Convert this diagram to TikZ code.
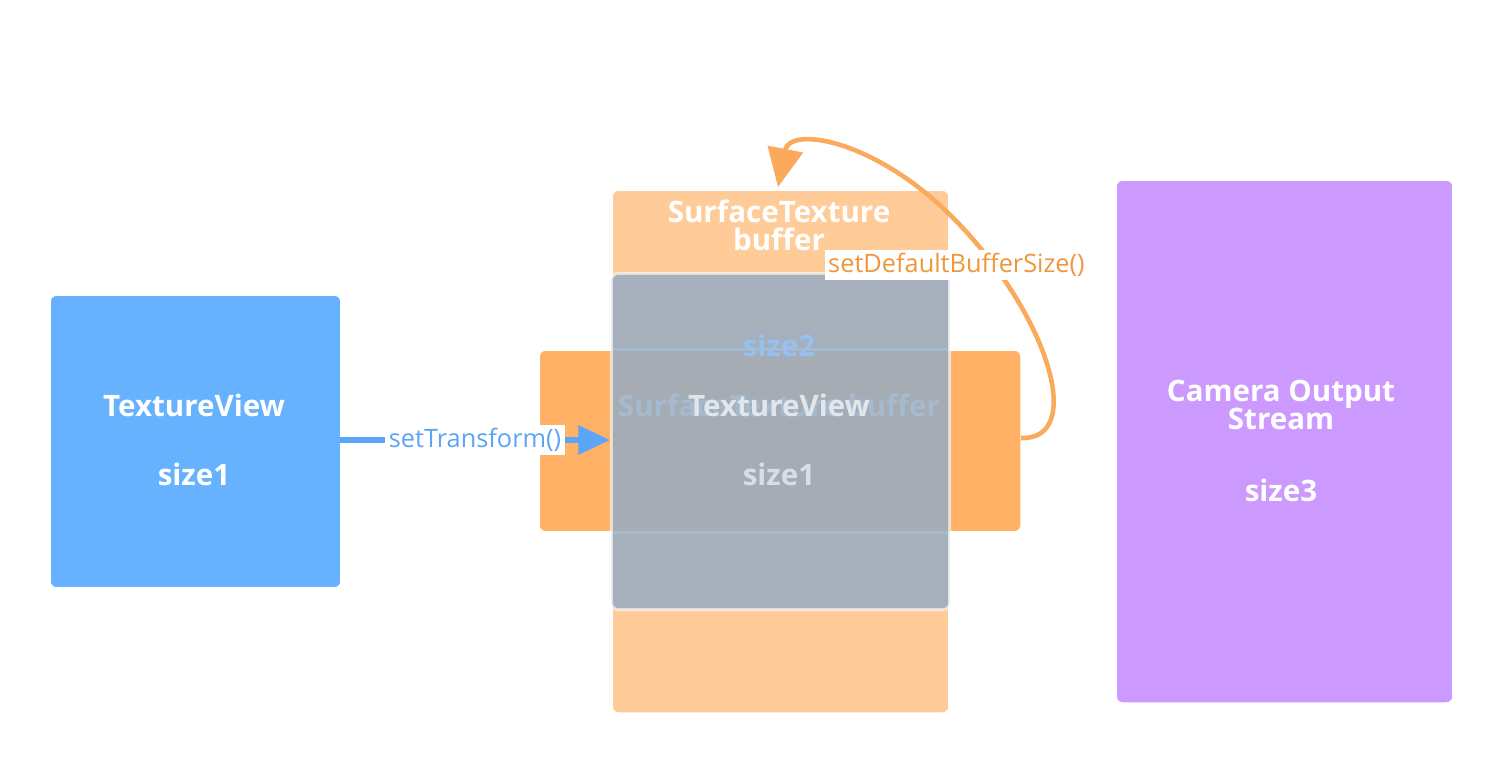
\documentclass[tikz,border=0pt]{standalone}
\usepackage{fontspec}
\setmainfont{Open Sans}
\usetikzlibrary{arrows.meta}
\definecolor{tvblue}{RGB}{102,178,255}
\definecolor{campurple}{RGB}{204,153,255}
\definecolor{stlight}{RGB}{255,204,153}
\definecolor{storange}{RGB}{255,178,102}
\definecolor{overlay}{RGB}{146,171,196}
\definecolor{arrblue}{RGB}{90,165,245}
\definecolor{arrorange}{RGB}{250,170,90}
\definecolor{lbltxt}{RGB}{240,150,60}
\tikzset{
  box/.style={draw=white, line width=0.8pt, rounded corners=2pt, anchor=north west, inner sep=0pt},
  big/.style={text=white, font=\bfseries\fontsize{8.4}{10}\selectfont, align=center},
  lbl/.style={fill=white, inner sep=1pt, font=\fontsize{7.2}{8}\selectfont}
}
\begin{document}
\begin{tikzpicture}[x=0.01cm, y=-0.01cm]
\useasboundingbox (0,0) rectangle (1500,759);
% boxes
\node[box, fill=tvblue, minimum width=2.92cm, minimum height=2.94cm] (tv) at (48,293) {};
\node[box, fill=campurple, minimum width=3.38cm, minimum height=5.24cm] (cam) at (1114,178) {};
\node[box, fill=stlight, minimum width=3.38cm, minimum height=5.24cm] (st) at (610,188) {};
\node[box, fill=storange, minimum width=4.83cm, minimum height=1.83cm] (sto) at (537,348) {};
\node[big] at (779,405) {SurfaceTexture buffer};
\node[big] at (779,225) {SurfaceTexture\\[-2pt]buffer};
\node[box, fill=overlay, fill opacity=0.82, draw opacity=0.6, minimum width=3.38cm, minimum height=3.36cm] (ov) at (610,272) {};
% texts
\node[big] (tvname) at (194,405) {TextureView};
\node[big] at (194,474) {size1};
\node[big] at (1281,405) {Camera Output\\[-2pt]Stream};
\node[big] at (1281,490) {size3};
\node[big, text={rgb,255:red,150;green,192;blue,240}] at (779,345) {size2};
\node[big, text={rgb,255:red,225;green,230;blue,236}] at (779,405) {TextureView};
\node[big, text={rgb,255:red,215;green,222;blue,230}] at (779,474) {size1};
% connectors
\coordinate (tvr) at (340,440);
\coordinate (ovl) at (610,440);
\draw[arrblue, line width=1.6pt, -{Triangle[length=9pt,width=8pt]}] (tvr) -- node[lbl, text=arrblue] {setTransform()} (ovl);
\coordinate (stor) at (1021,438);
\coordinate (sttop) at (778,187);
\draw[arrorange, line width=1.3pt, -{Triangle[length=11pt,width=10pt]}] (stor) .. controls (1085,440) and (1050,320) .. (960,225) .. controls (880,140) and (790,125) .. (sttop);
\node[lbl, text=lbltxt, anchor=west] at (824,265) {setDefaultBufferSize()};
\end{tikzpicture}
\end{document}
